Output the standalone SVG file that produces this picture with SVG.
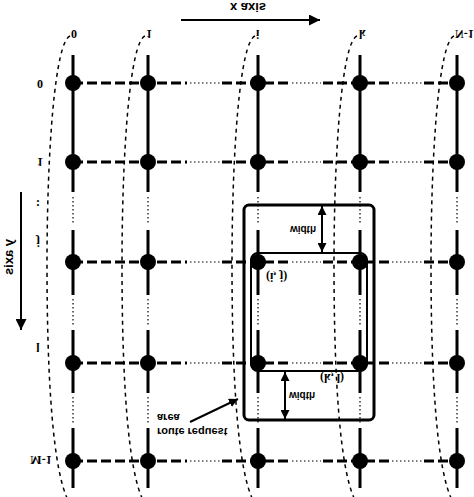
<svg xmlns="http://www.w3.org/2000/svg" xmlns:xlink="http://www.w3.org/1999/xlink" width="474" height="497" viewBox="0 0 474 497">
<style>
.solid{stroke:#000;stroke-width:3;fill:none}
.dash{stroke:#000;stroke-width:3;fill:none;stroke-dasharray:10 4}
.dot{stroke:#000;stroke-width:1.2;fill:none;stroke-dasharray:1.5 2.5}
.curve{stroke:#000;stroke-width:1.5;fill:none;stroke-dasharray:4 4}
.arr{stroke:#000;stroke-width:2;fill:none}
.node{fill:#000}
.lbl{font-family:"Liberation Serif","Times New Roman",serif;font-weight:bold;font-size:12px;fill:#000}
.sans{font-family:"Liberation Sans",Arial,sans-serif;font-weight:bold;fill:#000}
.box{stroke:#000;fill:none}
</style>
<defs>
<marker id="ah" viewBox="0 0 10 10" refX="10" refY="5" markerWidth="12" markerHeight="11" markerUnits="userSpaceOnUse" orient="auto-start-reverse"><path d="M0,0 L10,5 L0,10 z" fill="#000"/></marker>
<marker id="ahs" viewBox="0 0 10 10" refX="10" refY="5" markerWidth="9" markerHeight="9" markerUnits="userSpaceOnUse" orient="auto-start-reverse"><path d="M0,0 L10,5 L0,10 z" fill="#000"/></marker>
<g id="vcol">
<path class="solid" d="M0,55V192M0,230V295M0,330V393M0,428V488"/>
<path class="dot" d="M0,197V224M0,299V326M0,397V425"/>
</g>
<g id="hrow">
<path class="dash" d="M73,0H187M222,0H290M323,0H390M424,0H457"/>
<path class="dot" d="M190,0H220M292,0H321M392,0H422"/>
</g>
<path id="arc" class="curve" d="M-3,36C-18,42 -26,150 -26,265C-26,380 -20,470 -5,500"/>
</defs>

<g id="connectors">
<g id="arcs">
<use xlink:href="#arc" href="#arc" x="73"/>
<use xlink:href="#arc" href="#arc" x="148"/>
<use xlink:href="#arc" href="#arc" x="258"/>
<use xlink:href="#arc" href="#arc" x="360"/>
<use xlink:href="#arc" href="#arc" x="457"/>
</g>
<g id="columns">
<use xlink:href="#vcol" href="#vcol" x="73"/>
<use xlink:href="#vcol" href="#vcol" x="148"/>
<use xlink:href="#vcol" href="#vcol" x="258"/>
<use xlink:href="#vcol" href="#vcol" x="360"/>
<use xlink:href="#vcol" href="#vcol" x="457"/>
</g>
<g id="rows">
<use xlink:href="#hrow" href="#hrow" y="83"/>
<use xlink:href="#hrow" href="#hrow" y="162"/>
<use xlink:href="#hrow" href="#hrow" y="262"/>
<use xlink:href="#hrow" href="#hrow" y="363"/>
<use xlink:href="#hrow" href="#hrow" y="461"/>
</g>
<path class="arr" d="M181,20H320" marker-end="url(#ah)"/>
<path class="arr" d="M21,192V330" marker-end="url(#ah)"/>
<path class="arr" d="M322,206V252" marker-start="url(#ahs)" marker-end="url(#ahs)"/>
<path class="arr" d="M285,372V419" marker-start="url(#ahs)" marker-end="url(#ahs)"/>
<path class="arr" d="M190,422L238,399" marker-end="url(#ahs)"/>
</g>

<g id="request-area">
<rect class="box" x="244" y="205" width="130" height="215" rx="5" stroke-width="3"/>
<text class="sans" font-size="11" transform="translate(157,414) scale(1,-1)">area</text>
<text class="sans" font-size="11" transform="translate(157,428) scale(1,-1)">route request</text>
</g>
<g id="route-box">
<rect class="box" x="251" y="253" width="116" height="118" rx="7" stroke-width="2"/>
</g>
<g id="width-labels">
<text class="sans" font-size="10" text-anchor="end" transform="translate(316,226) scale(1,-1)">width</text>
<text class="sans" font-size="10" transform="translate(289,392) scale(1,-1)">width</text>
</g>

<g id="nodes">
<g id="n00"><circle class="node" cx="73" cy="83" r="8"/></g>
<g id="n01"><circle class="node" cx="148" cy="83" r="8"/></g>
<g id="n02"><circle class="node" cx="258" cy="83" r="8"/></g>
<g id="n03"><circle class="node" cx="360" cy="83" r="8"/></g>
<g id="n04"><circle class="node" cx="457" cy="83" r="8"/></g>
<g id="n10"><circle class="node" cx="73" cy="162" r="8"/></g>
<g id="n11"><circle class="node" cx="148" cy="162" r="8"/></g>
<g id="n12"><circle class="node" cx="258" cy="162" r="8"/></g>
<g id="n13"><circle class="node" cx="360" cy="162" r="8"/></g>
<g id="n14"><circle class="node" cx="457" cy="162" r="8"/></g>
<g id="n20"><circle class="node" cx="73" cy="262" r="8"/></g>
<g id="n21"><circle class="node" cx="148" cy="262" r="8"/></g>
<g id="n22"><circle class="node" cx="258" cy="262" r="8"/></g>
<g id="n23"><circle class="node" cx="360" cy="262" r="8"/></g>
<g id="n24"><circle class="node" cx="457" cy="262" r="8"/></g>
<g id="n30"><circle class="node" cx="73" cy="363" r="8"/></g>
<g id="n31"><circle class="node" cx="148" cy="363" r="8"/></g>
<g id="n32"><circle class="node" cx="258" cy="363" r="8"/></g>
<g id="n33"><circle class="node" cx="360" cy="363" r="8"/></g>
<g id="n34"><circle class="node" cx="457" cy="363" r="8"/></g>
<g id="n40"><circle class="node" cx="73" cy="461" r="8"/></g>
<g id="n41"><circle class="node" cx="148" cy="461" r="8"/></g>
<g id="n42"><circle class="node" cx="258" cy="461" r="8"/></g>
<g id="n43"><circle class="node" cx="360" cy="461" r="8"/></g>
<g id="n44"><circle class="node" cx="457" cy="461" r="8"/></g>
</g>

<g id="labels">
<text class="sans" font-size="13" text-anchor="middle" transform="translate(248,3) scale(1,-1)">x axis</text>
<text class="sans" font-size="13" text-anchor="middle" transform="translate(13,257) scale(1,-1) rotate(-90)">y axis</text>
<text class="lbl" transform="translate(71,30) scale(1,-1)">0</text>
<text class="lbl" transform="translate(146,30) scale(1,-1)">1</text>
<text class="lbl" transform="translate(256,30) scale(1,-1)">i</text>
<text class="lbl" transform="translate(359,30) scale(1,-1)">k</text>
<text class="lbl" transform="translate(455,30) scale(1,-1)">N-1</text>
<text class="lbl" text-anchor="middle" transform="translate(40,80) scale(1,-1)">0</text>
<text class="lbl" text-anchor="middle" transform="translate(40,158) scale(1,-1)">1</text>
<text class="lbl" text-anchor="middle" transform="translate(38,200) scale(1,-1)">:</text>
<text class="lbl" text-anchor="middle" transform="translate(38,238) scale(1,-1)">j</text>
<text class="lbl" text-anchor="middle" transform="translate(38,343) scale(1,-1)">l</text>
<text class="lbl" font-size="13" text-anchor="middle" transform="translate(41,456) scale(1,-1)">M-1</text>
<text class="lbl" font-size="14" transform="translate(266,273) scale(1,-1)">(i, j)</text>
<text class="lbl" font-size="14" transform="translate(320,374) scale(1,-1)">(k, l)</text>
</g>
</svg>
